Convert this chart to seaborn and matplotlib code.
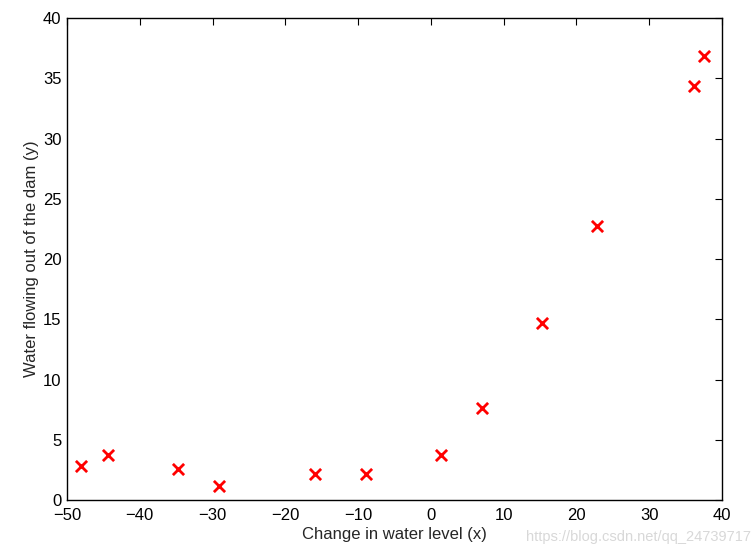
import matplotlib
matplotlib.use('Agg')
import matplotlib.pyplot as plt
import seaborn as sns
import pandas as pd

# change in water level (x) and water flowing out of the dam (y)
water_level = [-15.94, -29.15, 36.19, 37.49, -48.06, -8.94, 15.31, -34.71, 1.39, -44.38, 7.01, 22.76]
water_flow = [2.13, 1.17, 34.36, 36.84, 2.81, 2.12, 14.71, 2.61, 3.74, 3.73, 7.63, 22.75]

df = pd.DataFrame({'x': water_level, 'y': water_flow})

sns.set_style('white')
plt.rcParams['font.family'] = ['Liberation Sans', 'DejaVu Sans']

fig = plt.figure(figsize=(7.56, 5.51), dpi=100)
ax = fig.add_axes([0.0886, 0.0926, 0.8664, 0.8744])

sns.scatterplot(data=df, x='x', y='y', marker='x', color='red', s=65,
                linewidth=2, ax=ax, zorder=3)

ax.set_xlim(-50, 40)
ax.set_ylim(0, 40)
ax.set_xticks(range(-50, 41, 10))
ax.set_yticks(range(0, 41, 5))
ax.set_xticklabels([str(v).replace('-', '\u2212') for v in range(-50, 41, 10)])
ax.set_xlabel('Change in water level (x)', fontsize=12, labelpad=3)
ax.set_ylabel('Water flowing out of the dam (y)', fontsize=12, labelpad=3)
ax.tick_params(direction='in', top=True, right=True, length=5, width=0.8,
               labelsize=12, colors='black')
ax.tick_params(axis='x', pad=6)
ax.tick_params(axis='y', pad=4)
for s in ax.spines.values():
    s.set_visible(True)
    s.set_color('black')
    s.set_linewidth(1.0)

fig.text(0.993, 0.012, 'https://blog.csdn.net/qq_24739717', ha='right', va='bottom',
         fontsize=10.5, color='#d8d8d8')

fig.savefig('out.png', dpi=100)
